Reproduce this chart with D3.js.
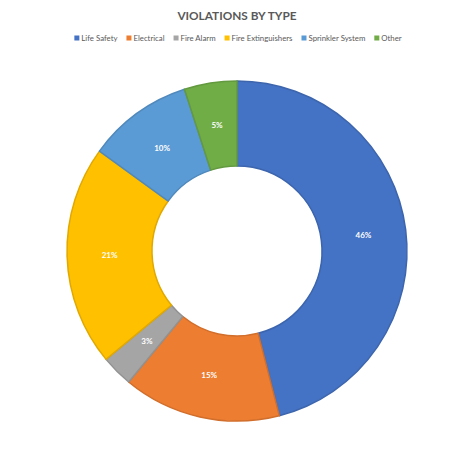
<!DOCTYPE html>
<html>
<head>
<meta charset="utf-8">
<script src="https://cdn.jsdelivr.net/npm/d3@7"></script>
<style>
  body { margin: 0; background: #fff; }
  svg text { font-family: Lato, "Open Sans", sans-serif; }
</style>
</head>
<body>
<div id="chart"></div>
<script>
// Chart data
const categories = ["Life Safety", "Electrical", "Fire Alarm", "Fire Extinguishers", "Sprinkler System", "Other"];
const values = [46, 15, 3, 21, 10, 5];
const colors = ["#4472C4", "#ED7D31", "#A5A5A5", "#FFC000", "#5B9BD5", "#70AD47"];

const data = categories.map((c, i) => ({ name: c, value: values[i], color: colors[i] }));
const total = d3.sum(values);

const fullWidth = 474;
const fullHeight = 458;
const cx = 237, cy = 251;
const outerR = 170, innerR = 85;

const svg = d3.select("#chart").append("svg")
  .attr("width", fullWidth)
  .attr("height", fullHeight);

// Title
svg.append("text")
  .attr("x", fullWidth / 2)
  .attr("y", 20)
  .attr("text-anchor", "middle")
  .attr("font-size", 11.8)
  .attr("font-weight", "bold")
  .attr("fill", "#595959")
  .text("VIOLATIONS BY TYPE");

// Legend, laid out from measured text widths and centred
const legend = svg.append("g");
const items = legend.selectAll("g")
  .data(data)
  .enter()
  .append("g");

items.append("rect")
  .attr("width", 5)
  .attr("height", 5)
  .attr("y", -5.5)
  .attr("fill", d => d.color);

items.append("text")
  .attr("x", 7)
  .attr("y", 0)
  .attr("font-size", 7.8)
  .attr("fill", "#595959")
  .text(d => d.name);

const gap = 9;
let offset = 0;
items.each(function() {
  const g = d3.select(this);
  g.attr("transform", `translate(${offset},0)`);
  offset += 7 + g.select("text").node().getComputedTextLength() + gap;
});
const legendWidth = offset - gap;
legend.attr("transform", `translate(${(fullWidth - legendWidth) / 2 + 1},41)`);

// Donut
const pie = d3.pie()
  .value(d => d.value)
  .sort(null);

const arc = d3.arc()
  .innerRadius(innerR)
  .outerRadius(outerR);

const g = svg.append("g")
  .attr("transform", `translate(${cx},${cy})`);

const slices = g.selectAll("g.slice")
  .data(pie(data))
  .enter()
  .append("g")
  .attr("class", "slice");

slices.append("path")
  .attr("d", arc)
  .attr("fill", d => d.data.color)
  .attr("stroke", d => d3.color(d.data.color).darker(0.35))
  .attr("stroke-width", 1.5)
  .attr("stroke-linejoin", "round");

slices.append("text")
  .attr("transform", d => `translate(${arc.centroid(d)})`)
  .attr("text-anchor", "middle")
  .attr("dy", "0.35em")
  .attr("font-size", 8)
  .attr("font-weight", "bold")
  .attr("fill", "#fff")
  .text(d => Math.round(d.data.value / total * 100) + "%");
</script>
</body>
</html>
